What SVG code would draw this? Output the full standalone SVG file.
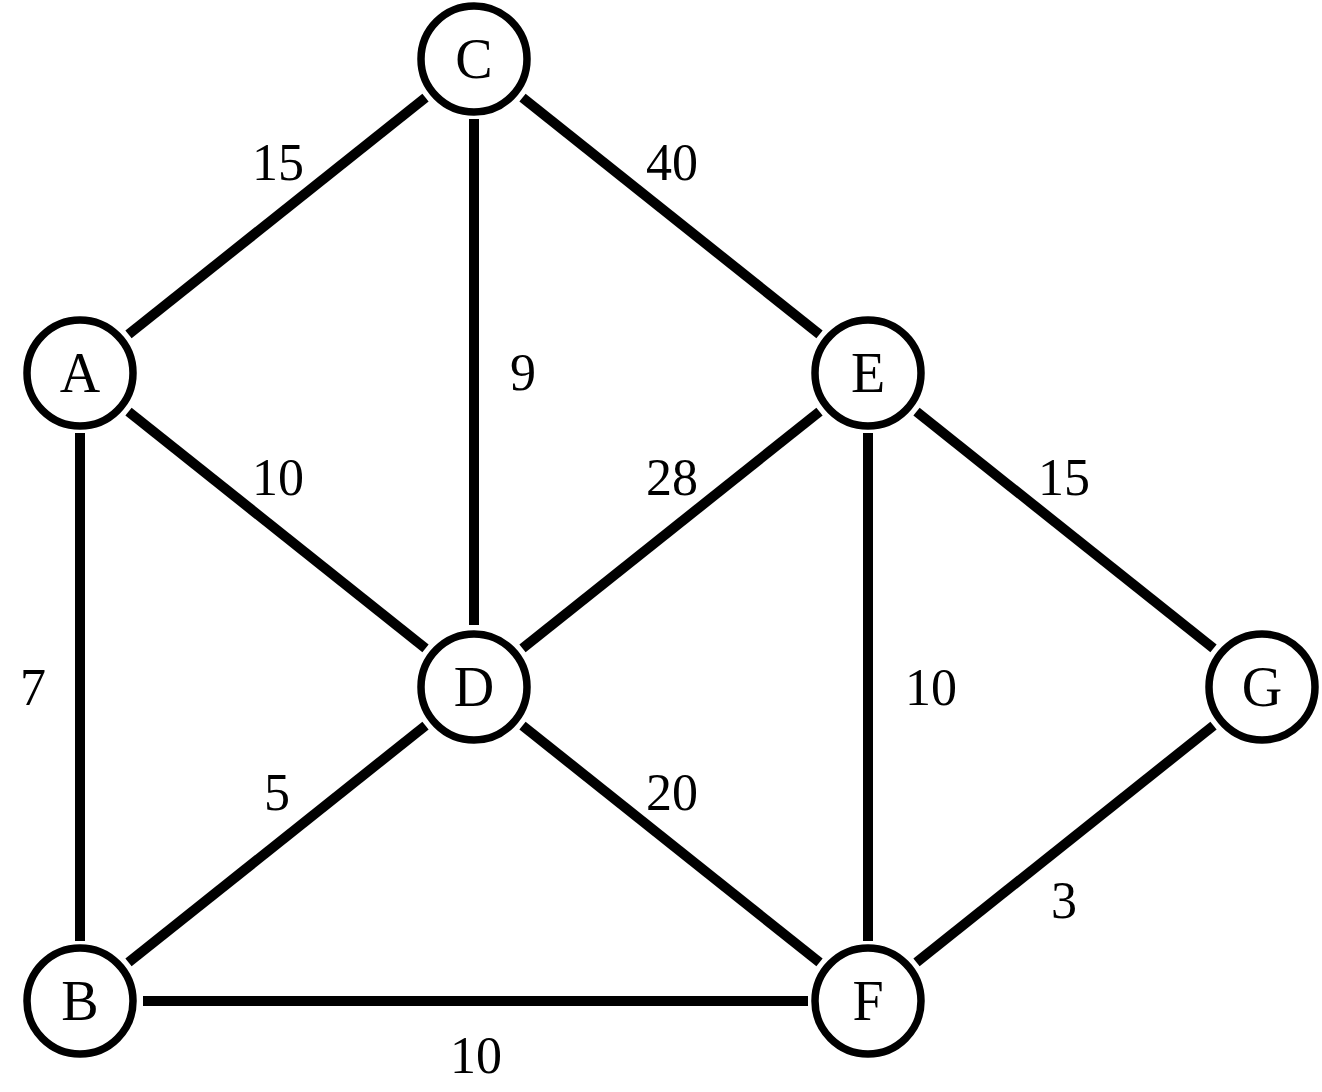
<svg xmlns="http://www.w3.org/2000/svg" width="1322" height="1092" viewBox="0 0 1322 1092">
<style>
.node circle{fill:#fff;stroke:#000;stroke-width:7.5}
.node text,.lbl{font-family:"Liberation Serif","DejaVu Serif",serif;font-size:52px;fill:#000;text-anchor:middle}
.node text{font-size:56px}
.edges line{stroke:#000;stroke-width:10}
</style>
<rect width="1322" height="1092" fill="#fff"/>
<g id="edges" class="edges">
<line x1="128.5" y1="334.4" x2="425.5" y2="97.6"/>
<line x1="80" y1="433" x2="80" y2="941"/>
<line x1="128.5" y1="411.6" x2="425.5" y2="648.4"/>
<line x1="474" y1="119" x2="474" y2="625"/>
<line x1="522.5" y1="97.6" x2="819.5" y2="334.4"/>
<line x1="819.5" y1="411.6" x2="522.5" y2="648.4"/>
<line x1="868" y1="433" x2="868" y2="941"/>
<line x1="916.5" y1="411.6" x2="1213.5" y2="648.4"/>
<line x1="425.5" y1="725.6" x2="128.5" y2="962.4"/>
<line x1="522.5" y1="725.6" x2="819.5" y2="962.4"/>
<line x1="1213.5" y1="725.6" x2="916.5" y2="962.4"/>
<line x1="143" y1="1001" x2="808" y2="1001"/>
</g>
<g id="labels">
<text class="lbl" x="278" y="180">15</text>
<text class="lbl" x="672" y="180">40</text>
<text class="lbl" x="523" y="390">9</text>
<text class="lbl" x="278" y="495">10</text>
<text class="lbl" x="672" y="495">28</text>
<text class="lbl" x="1064" y="495">15</text>
<text class="lbl" x="33" y="705">7</text>
<text class="lbl" x="931" y="705">10</text>
<text class="lbl" x="277" y="810">5</text>
<text class="lbl" x="672" y="810">20</text>
<text class="lbl" x="1064" y="918">3</text>
<text class="lbl" x="476" y="1073">10</text>
</g>
<g id="node-C" class="node"><circle cx="474" cy="59" r="53"/><text x="474" y="78">C</text></g>
<g id="node-A" class="node"><circle cx="80" cy="373" r="53"/><text x="80" y="392">A</text></g>
<g id="node-E" class="node"><circle cx="868" cy="373" r="53"/><text x="868" y="392">E</text></g>
<g id="node-D" class="node"><circle cx="474" cy="687" r="53"/><text x="474" y="706">D</text></g>
<g id="node-G" class="node"><circle cx="1262" cy="687" r="53"/><text x="1262" y="706">G</text></g>
<g id="node-B" class="node"><circle cx="80" cy="1001" r="53"/><text x="80" y="1020">B</text></g>
<g id="node-F" class="node"><circle cx="868" cy="1001" r="53"/><text x="868" y="1020">F</text></g>
</svg>
